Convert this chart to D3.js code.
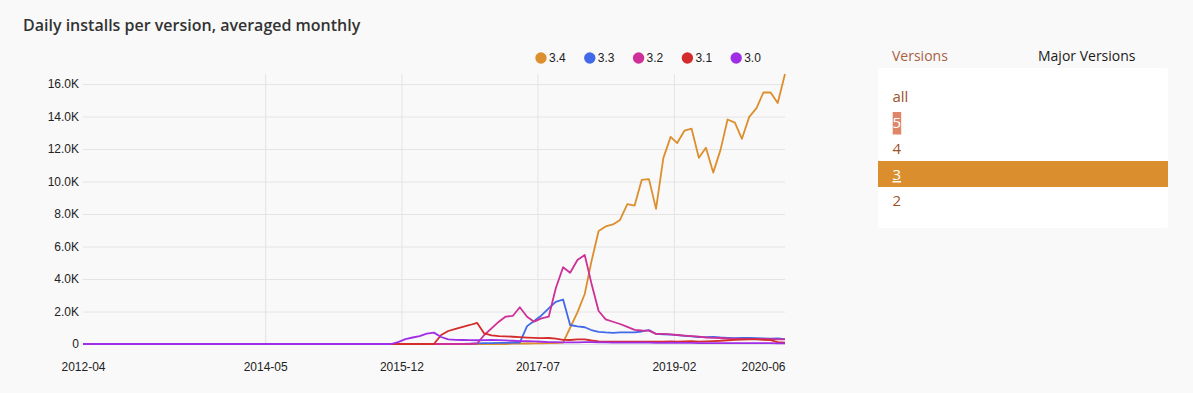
<!DOCTYPE html>
<html>
<head>
<meta charset="utf-8">
<script src="https://cdn.jsdelivr.net/npm/d3@7"></script>
<style>
  body { margin: 0; background: #f9f9f9; }
  .canvas { width: 1193px; height: 393px; }
  .axis text { font-family: 'Liberation Sans', Arial, sans-serif; font-size: 12px; fill: #222; }
  .axis line { stroke: #e4e4e4; }
  .axis .domain { display: none; }
</style>
</head>
<body>
<div class="canvas"></div>
<script>
// data: one value per month, starting at startMonth
const startMonth = '2012-04';
const tickLabels = ['2012-04', '2014-05', '2015-12', '2017-07', '2019-02', '2020-06'];
const seriesNames = ['3.4', '3.3', '3.2', '3.1', '3.0'];
const colors = ['#dd8e2d', '#4169e8', '#cf2f98', '#d42b2b', '#a02ee6'];

const v34 = [
  0,0,0,0,0,0,0,0,0,0, 0,0,0,0,0,0,0,0,0,0,
  0,0,0,0,0,0,0,0,0,0, 0,0,0,0,0,0,0,0,0,0,
  0,0,0,0,0,0,0,0,0,0, 0,0,0,0,0,0,0,0,0,0,
  20,30,30,40,40,50,60,80,1000,1950,
  3080,5050,6960,7240,7360,7640,8610,8520,10100,10150,
  8320,11440,12750,12370,13140,13250,11460,12080,10550,11950,
  13820,13630,12630,13980,14520,15480,15480,14830,16620
];
const v33 = [
  0,0,0,0,0,0,0,0,0,0, 0,0,0,0,0,0,0,0,0,0,
  0,0,0,0,0,0,0,0,0,0, 0,0,0,0,0,0,0,0,0,0,
  0,0,0,0,0,0,0,0,0,0, 0,0,0,0,20,40,60,60,70,70,
  80,90,1100,1420,1760,2190,2590,2740,1170,1090,
  1030,860,750,710,690,720,720,720,770,860,
  620,600,580,540,500,470,430,420,440,400,
  380,360,370,380,360,350,330,340,300
];
const v32 = [
  0,0,0,0,0,0,0,0,0,0, 0,0,0,0,0,0,0,0,0,0,
  0,0,0,0,0,0,0,0,0,0, 0,0,0,0,0,0,0,0,0,0,
  0,0,0,0,0,0,0,0,0,0, 0,0,0,0,0,30,555,967,1374,1680,
  1725,2260,1680,1374,1580,1680,3430,4725,4390,5175,
  5480,3760,2030,1520,1370,1230,1050,870,830,820,
  620,620,590,555,520,490,450,400,380,370,
  340,330,320,310,300,310,300,290,290
];
const v31 = [
  0,0,0,0,0,0,0,0,0,0, 0,0,0,0,0,0,0,0,0,0,
  0,0,0,0,0,0,0,0,0,0, 0,0,0,0,0,0,0,0,0,0,
  0,0,0,0,0,0,0,0,0,0, 555,800,925,1060,1170,1300,650,535,490,475,
  445,420,395,380,365,370,330,260,245,280,
  280,215,155,150,140,140,150,150,140,150,
  140,150,160,150,160,170,150,160,180,200,
  230,250,270,290,280,260,240,110,90
];
const v30 = [
  0,0,0,0,0,0,0,0,0,0, 0,0,0,0,0,0,0,0,0,0,
  0,0,0,0,0,0,0,0,0,0, 0,0,0,0,0,0,0,0,0,0,
  0,0,0,0,120,300,400,480,640,700, 430,280,250,245,240,230,240,250,240,220,
  200,180,170,160,140,120,110,100,100,100,
  110,110,100,100,90,90,90,80,80,80,
  70,70,80,70,70,70,60,60,60,60,
  60,60,50,50,50,50,50,40,40
];
const seriesValues = [v34, v33, v32, v31, v30];

// right panel
const panelTabs = ['Versions', 'Major Versions'];
const majorVersions = ['all', '5', '4', '3', '2'];
const selectedVersion = '3';
const markedVersion = '5';

const svg = d3.select('.canvas')
  .append('svg')
    .attr('width', 1193)
    .attr('height', 393);

const margin = {top: 74, bottom: 49, left: 83, right: 408};
const graphWidth = 1193 - margin.left - margin.right;
const graphHeight = 393 - margin.top - margin.bottom;

svg.append('text')
  .attr('x', 23)
  .attr('y', 31)
  .attr('font-family', "'Open Sans', sans-serif")
  .attr('font-size', 16)
  .attr('font-weight', 600)
  .attr('fill', '#333')
  .text('Daily installs per version, averaged monthly');

const graph = svg.append('g')
  .attr('transform', `translate(${margin.left}, ${margin.top})`);

const parseMonth = d3.timeParse('%Y-%m');
const start = parseMonth(startMonth);
const months = d3.timeMonth.range(start, d3.timeMonth.offset(start, v34.length));

const x = d3.scaleTime()
  .domain(d3.extent(months))
  .range([0, graphWidth]);

const y = d3.scaleLinear()
  .domain([0, d3.max(seriesValues, s => d3.max(s))])
  .range([graphHeight, 0]);

// axes + grid
const yAxis = d3.axisLeft(y)
  .tickValues(d3.range(0, 16001, 2000))
  .tickSize(-graphWidth)
  .tickPadding(4)
  .tickFormat(d => d === 0 ? '0' : (d / 1000).toFixed(1) + 'K');

graph.append('g').attr('class', 'axis').call(yAxis);

const lastTick = tickLabels.length - 1;
const tickDates = tickLabels.map((t, i) => {
  if (i === 0) return start;
  if (i === lastTick) return months[months.length - 1];
  return d3.timeDay.offset(parseMonth(t), 14);
});

const xAxis = d3.axisBottom(x)
  .tickValues(tickDates)
  .tickSize(-graphHeight)
  .tickPadding(18)
  .tickFormat(d3.timeFormat('%Y-%m'));

const xAxisGroup = graph.append('g')
  .attr('class', 'axis')
  .attr('transform', `translate(0, ${graphHeight})`)
  .call(xAxis);

xAxisGroup.selectAll('.tick line')
  .attr('display', (d, i) => (i === 0 || i === lastTick) ? 'none' : null);
xAxisGroup.selectAll('.tick text')
  .attr('text-anchor', (d, i) => i === lastTick ? 'end' : 'middle');

// lines
const line = d3.line()
  .x((d, i) => x(months[i]))
  .y(d => y(d));

graph.selectAll('path.series')
  .data(seriesValues)
  .enter()
  .append('path')
    .attr('class', 'series')
    .attr('fill', 'none')
    .attr('stroke', (d, i) => colors[i])
    .attr('stroke-width', 1.8)
    .attr('stroke-linejoin', 'round')
    .attr('d', line);

// legend
const legend = svg.append('g')
  .attr('transform', 'translate(541, 58)');

const items = legend.selectAll('g')
  .data(seriesNames)
  .enter()
  .append('g')
    .attr('transform', (d, i) => `translate(${i * 48.8}, 0)`);

items.append('circle')
  .attr('r', 5.7)
  .attr('fill', (d, i) => colors[i]);

items.append('text')
  .attr('x', 8)
  .attr('dy', '0.35em')
  .attr('font-family', "'Liberation Sans', Arial, sans-serif")
  .attr('font-size', 12)
  .attr('fill', '#222')
  .text(d => d);

// version picker panel
const panel = svg.append('g')
  .attr('font-family', "'Open Sans', sans-serif")
  .attr('font-size', 14);

panel.selectAll('text.tab')
  .data(panelTabs)
  .enter()
  .append('text')
    .attr('class', 'tab')
    .attr('x', (d, i) => i === 0 ? 892 : 1038)
    .attr('y', 61)
    .attr('fill', (d, i) => i === 0 ? '#a8613f' : '#1a1a1a')
    .text(d => d);

panel.append('rect')
  .attr('x', 878)
  .attr('y', 68)
  .attr('width', 290)
  .attr('height', 160)
  .attr('rx', 3)
  .attr('fill', '#fff');

const rowY = (d, i) => 102 + i * 26;

panel.selectAll('rect.sel')
  .data(majorVersions.filter(v => v === selectedVersion))
  .enter()
  .append('rect')
    .attr('class', 'sel')
    .attr('x', 878)
    .attr('y', d => rowY(d, majorVersions.indexOf(d)) - 19)
    .attr('width', 290)
    .attr('height', 26)
    .attr('fill', '#db8e2e');

panel.selectAll('rect.mark')
  .data(majorVersions.filter(v => v === markedVersion))
  .enter()
  .append('rect')
    .attr('class', 'mark')
    .attr('x', 892.7)
    .attr('y', d => rowY(d, majorVersions.indexOf(d)) - 16)
    .attr('width', 8.5)
    .attr('height', 22.5)
    .attr('fill', '#df8668');

panel.selectAll('text.ver')
  .data(majorVersions)
  .enter()
  .append('text')
    .attr('class', 'ver')
    .attr('x', 892.5)
    .attr('y', rowY)
    .attr('font-size', 15)
    .attr('fill', d => (d === selectedVersion || d === markedVersion) ? '#fff' : '#a0522d')
    .attr('text-decoration', d => d === selectedVersion ? 'underline' : null)
    .text(d => d);
</script>
</body>
</html>
